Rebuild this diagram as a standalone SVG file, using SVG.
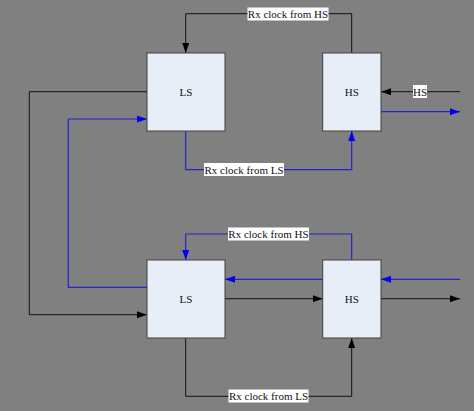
<svg xmlns="http://www.w3.org/2000/svg" width="474" height="411" viewBox="0 0 474 411">
<defs>
<marker id="ak" viewBox="0 0 10 7" refX="10" refY="3.5" markerWidth="10" markerHeight="7" markerUnits="userSpaceOnUse" orient="auto"><path d="M0,0 L10,3.5 L0,7 Z" fill="#000"/></marker>
<marker id="ab" viewBox="0 0 10 7" refX="10" refY="3.5" markerWidth="10" markerHeight="7" markerUnits="userSpaceOnUse" orient="auto"><path d="M0,0 L10,3.5 L0,7 Z" fill="#0000ee"/></marker>
</defs>
<style>
.box{fill:#e8eef8;stroke:#404040;stroke-width:1}
.t{font-family:"Liberation Serif","Times New Roman",serif;font-size:11px;fill:#111;text-anchor:middle}
.k{fill:none;stroke:#111;stroke-width:1;marker-end:url(#ak)}
.kn{fill:none;stroke:#111;stroke-width:1}
.b{fill:none;stroke:#2222cc;stroke-width:1.2;marker-end:url(#ab)}
.lb{fill:#fff}
</style>
<rect width="474" height="411" fill="#808080"/>
<g id="connectors">
<path class="k" d="M351.7,53 V13.7 H185.7 V53"/>
<path class="k" d="M460,91.7 H381"/>
<path class="b" d="M381,111.7 H460"/>
<path class="k" d="M147,91.7 H29.3 V314.7 H147"/>
<path class="b" d="M147,287.3 H68.3 V119 H147"/>
<path class="b" d="M185.7,131 V169.7 H351.7 V131"/>
<path class="b" d="M351.7,260 V234 H185.7 V260"/>
<path class="b" d="M322.7,279.3 H225"/>
<path class="b" d="M460,279.3 H381"/>
<path class="k" d="M225,298.7 H322.7"/>
<path class="k" d="M381,298.7 H460"/>
<path class="k" d="M185.7,338 V396.3 H351.7 V338"/>
<rect class="lb" x="247.5" y="7.5" width="81" height="13"/>
<text class="t" x="288" y="18">Rx clock from HS</text>
<rect class="lb" x="413" y="85" width="14" height="13"/>
<text class="t" x="420" y="95.5">HS</text>
<rect class="lb" x="204" y="163" width="80" height="13"/>
<text class="t" x="244" y="173.5">Rx clock from LS</text>
<rect class="lb" x="228" y="227.5" width="81" height="13"/>
<text class="t" x="268.5" y="238">Rx clock from HS</text>
<rect class="lb" x="228.5" y="389.5" width="80" height="13"/>
<text class="t" x="268.5" y="400">Rx clock from LS</text>
</g>
<g id="ls1"><rect class="box" x="147" y="53" width="78" height="78"/><text class="t" x="186" y="95.5">LS</text></g>
<g id="hs1"><rect class="box" x="322.7" y="53" width="58.3" height="78"/><text class="t" x="351.8" y="95.5">HS</text></g>
<g id="ls2"><rect class="box" x="147" y="260" width="78" height="78"/><text class="t" x="186" y="302.5">LS</text></g>
<g id="hs2"><rect class="box" x="322.7" y="260" width="58.3" height="78"/><text class="t" x="351.8" y="302.5">HS</text></g>
</svg>
